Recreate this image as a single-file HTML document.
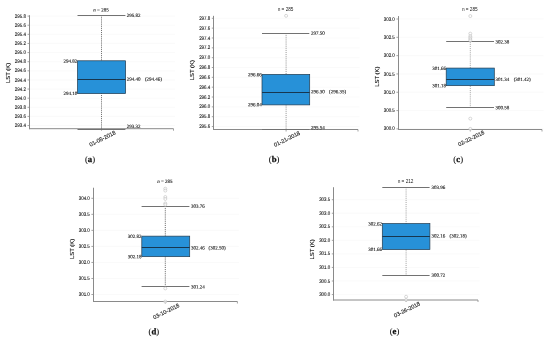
<!DOCTYPE html>
<html><head><meta charset="utf-8"><title>LST boxplots</title>
<style>html,body{margin:0;padding:0;background:#fff;}svg{display:block}</style></head>
<body><svg width="550" height="340" viewBox="0 0 550 340">
<rect width="550" height="340" fill="#fff"/>
<line x1="29.5" y1="125.54" x2="175.0" y2="125.54" stroke="#f7f7f7" stroke-width="0.6"/>
<line x1="27.5" y1="125.54" x2="29.5" y2="125.54" stroke="#666" stroke-width="0.6"/>
<text transform="translate(25.9 127.14) rotate(0.03) scale(0.85 1)" font-family='"Liberation Sans", sans-serif' font-size="5.2" text-anchor="end" fill="#111" stroke="#111" stroke-width="0.1">293.4</text>
<line x1="29.5" y1="116.42" x2="175.0" y2="116.42" stroke="#f7f7f7" stroke-width="0.6"/>
<line x1="27.5" y1="116.42" x2="29.5" y2="116.42" stroke="#666" stroke-width="0.6"/>
<text transform="translate(25.9 118.02) rotate(0.03) scale(0.85 1)" font-family='"Liberation Sans", sans-serif' font-size="5.2" text-anchor="end" fill="#111" stroke="#111" stroke-width="0.1">293.6</text>
<line x1="29.5" y1="107.30" x2="175.0" y2="107.30" stroke="#f7f7f7" stroke-width="0.6"/>
<line x1="27.5" y1="107.30" x2="29.5" y2="107.30" stroke="#666" stroke-width="0.6"/>
<text transform="translate(25.9 108.90) rotate(0.03) scale(0.85 1)" font-family='"Liberation Sans", sans-serif' font-size="5.2" text-anchor="end" fill="#111" stroke="#111" stroke-width="0.1">293.8</text>
<line x1="29.5" y1="98.18" x2="175.0" y2="98.18" stroke="#f7f7f7" stroke-width="0.6"/>
<line x1="27.5" y1="98.18" x2="29.5" y2="98.18" stroke="#666" stroke-width="0.6"/>
<text transform="translate(25.9 99.78) rotate(0.03) scale(0.85 1)" font-family='"Liberation Sans", sans-serif' font-size="5.2" text-anchor="end" fill="#111" stroke="#111" stroke-width="0.1">294.0</text>
<line x1="29.5" y1="89.06" x2="175.0" y2="89.06" stroke="#f7f7f7" stroke-width="0.6"/>
<line x1="27.5" y1="89.06" x2="29.5" y2="89.06" stroke="#666" stroke-width="0.6"/>
<text transform="translate(25.9 90.66) rotate(0.03) scale(0.85 1)" font-family='"Liberation Sans", sans-serif' font-size="5.2" text-anchor="end" fill="#111" stroke="#111" stroke-width="0.1">294.2</text>
<line x1="29.5" y1="79.94" x2="175.0" y2="79.94" stroke="#f7f7f7" stroke-width="0.6"/>
<line x1="27.5" y1="79.94" x2="29.5" y2="79.94" stroke="#666" stroke-width="0.6"/>
<text transform="translate(25.9 81.54) rotate(0.03) scale(0.85 1)" font-family='"Liberation Sans", sans-serif' font-size="5.2" text-anchor="end" fill="#111" stroke="#111" stroke-width="0.1">294.4</text>
<line x1="29.5" y1="70.82" x2="175.0" y2="70.82" stroke="#f7f7f7" stroke-width="0.6"/>
<line x1="27.5" y1="70.82" x2="29.5" y2="70.82" stroke="#666" stroke-width="0.6"/>
<text transform="translate(25.9 72.42) rotate(0.03) scale(0.85 1)" font-family='"Liberation Sans", sans-serif' font-size="5.2" text-anchor="end" fill="#111" stroke="#111" stroke-width="0.1">294.6</text>
<line x1="29.5" y1="61.70" x2="175.0" y2="61.70" stroke="#f7f7f7" stroke-width="0.6"/>
<line x1="27.5" y1="61.70" x2="29.5" y2="61.70" stroke="#666" stroke-width="0.6"/>
<text transform="translate(25.9 63.30) rotate(0.03) scale(0.85 1)" font-family='"Liberation Sans", sans-serif' font-size="5.2" text-anchor="end" fill="#111" stroke="#111" stroke-width="0.1">294.8</text>
<line x1="29.5" y1="52.58" x2="175.0" y2="52.58" stroke="#f7f7f7" stroke-width="0.6"/>
<line x1="27.5" y1="52.58" x2="29.5" y2="52.58" stroke="#666" stroke-width="0.6"/>
<text transform="translate(25.9 54.18) rotate(0.03) scale(0.85 1)" font-family='"Liberation Sans", sans-serif' font-size="5.2" text-anchor="end" fill="#111" stroke="#111" stroke-width="0.1">295.0</text>
<line x1="29.5" y1="43.46" x2="175.0" y2="43.46" stroke="#f7f7f7" stroke-width="0.6"/>
<line x1="27.5" y1="43.46" x2="29.5" y2="43.46" stroke="#666" stroke-width="0.6"/>
<text transform="translate(25.9 45.06) rotate(0.03) scale(0.85 1)" font-family='"Liberation Sans", sans-serif' font-size="5.2" text-anchor="end" fill="#111" stroke="#111" stroke-width="0.1">295.2</text>
<line x1="29.5" y1="34.34" x2="175.0" y2="34.34" stroke="#f7f7f7" stroke-width="0.6"/>
<line x1="27.5" y1="34.34" x2="29.5" y2="34.34" stroke="#666" stroke-width="0.6"/>
<text transform="translate(25.9 35.94) rotate(0.03) scale(0.85 1)" font-family='"Liberation Sans", sans-serif' font-size="5.2" text-anchor="end" fill="#111" stroke="#111" stroke-width="0.1">295.4</text>
<line x1="29.5" y1="25.22" x2="175.0" y2="25.22" stroke="#f7f7f7" stroke-width="0.6"/>
<line x1="27.5" y1="25.22" x2="29.5" y2="25.22" stroke="#666" stroke-width="0.6"/>
<text transform="translate(25.9 26.82) rotate(0.03) scale(0.85 1)" font-family='"Liberation Sans", sans-serif' font-size="5.2" text-anchor="end" fill="#111" stroke="#111" stroke-width="0.1">295.6</text>
<line x1="29.5" y1="16.10" x2="175.0" y2="16.10" stroke="#f7f7f7" stroke-width="0.6"/>
<line x1="27.5" y1="16.10" x2="29.5" y2="16.10" stroke="#666" stroke-width="0.6"/>
<text transform="translate(25.9 17.70) rotate(0.03) scale(0.85 1)" font-family='"Liberation Sans", sans-serif' font-size="5.2" text-anchor="end" fill="#111" stroke="#111" stroke-width="0.1">295.8</text>
<line x1="29.5" y1="15.19" x2="29.5" y2="129.20" stroke="#8a8a8a" stroke-width="1"/>
<line x1="29.0" y1="128.70" x2="173.5" y2="128.70" stroke="#8a8a8a" stroke-width="1"/>
<line x1="101.5" y1="128.70" x2="101.5" y2="130.70" stroke="#8a8a8a" stroke-width="0.8"/>
<line x1="173.5" y1="128.70" x2="173.5" y2="130.70" stroke="#8a8a8a" stroke-width="0.8"/>
<line x1="101.5" y1="15.19" x2="101.5" y2="129.19" stroke="#4c4c4c" stroke-width="0.8" stroke-dasharray="1.1 1"/>
<line x1="77.5" y1="15.50" x2="125.4" y2="15.50" stroke="#727272" stroke-width="1"/>
<line x1="77.5" y1="129.50" x2="125.4" y2="129.50" stroke="#727272" stroke-width="1"/>
<rect x="77.5" y="60.79" width="48.1" height="32.83" fill="#2791d8" stroke="#22394c" stroke-width="0.7"/>
<line x1="77.5" y1="79.50" x2="125.6" y2="79.50" stroke="#17364f" stroke-width="1.0"/>
<text transform="rotate(0.03 126.8 16.89)" x="126.8" y="16.89" font-family='"Liberation Serif", serif' font-size="5.0" text-anchor="start" fill="#111" stroke="#111" stroke-width="0.1">295.82</text>
<text transform="rotate(0.03 126.8 128.09)" x="126.8" y="128.09" font-family='"Liberation Serif", serif' font-size="5.0" text-anchor="start" fill="#111" stroke="#111" stroke-width="0.1">293.32</text>
<text transform="rotate(0.03 126.8 80.74)" x="126.8" y="80.74" font-family='"Liberation Serif", serif' font-size="5.0" text-anchor="start" fill="#111" stroke="#111" stroke-width="0.1">294.40</text>
<text transform="rotate(0.03 144.9 80.74)" x="144.9" y="80.74" font-family='"Liberation Serif", serif' font-size="5.0" text-anchor="start" fill="#111" stroke="#111" stroke-width="0.1">(294.46)</text>
<text transform="rotate(0.03 77.2 62.69)" x="77.2" y="62.69" font-family='"Liberation Serif", serif' font-size="5.0" text-anchor="end" fill="#111" stroke="#111" stroke-width="0.1">294.82</text>
<text transform="rotate(0.03 77.2 95.12)" x="77.2" y="95.12" font-family='"Liberation Serif", serif' font-size="5.0" text-anchor="end" fill="#111" stroke="#111" stroke-width="0.1">294.10</text>
<text transform="rotate(0.03 101.0 11.50)" x="101.0" y="11.50" font-family='"Liberation Serif", serif' font-size="5" text-anchor="middle" fill="#111" stroke="#111" stroke-width="0.1"><tspan font-style="italic">n</tspan> = 285</text>
<text transform="translate(10.0,72.9) rotate(-90)" font-family='"Liberation Sans", sans-serif' font-size="5.9" text-anchor="middle" fill="#111" stroke="#111" stroke-width="0.12">LST (K)</text>
<text transform="translate(102.5,138.8) rotate(-26.5)" font-family='"Liberation Sans", sans-serif' font-size="5.6" text-anchor="middle" fill="#111" stroke="#111" stroke-width="0.1" y="1.7">01-05-2018</text>
<text transform="rotate(0.03 90.0 161.9)" x="90.0" y="161.9" font-family='"Liberation Serif", serif' font-size="8.7" text-anchor="middle" fill="#111" stroke="#111" stroke-width="0.1">(<tspan font-weight="bold" stroke-width="0.3">a</tspan>)</text>
<line x1="213.8" y1="126.54" x2="359.5" y2="126.54" stroke="#f7f7f7" stroke-width="0.6"/>
<line x1="211.8" y1="126.54" x2="213.8" y2="126.54" stroke="#666" stroke-width="0.6"/>
<text transform="translate(210.2 128.14) rotate(0.03) scale(0.85 1)" font-family='"Liberation Sans", sans-serif' font-size="5.2" text-anchor="end" fill="#111" stroke="#111" stroke-width="0.1">295.6</text>
<line x1="213.8" y1="116.70" x2="359.5" y2="116.70" stroke="#f7f7f7" stroke-width="0.6"/>
<line x1="211.8" y1="116.70" x2="213.8" y2="116.70" stroke="#666" stroke-width="0.6"/>
<text transform="translate(210.2 118.30) rotate(0.03) scale(0.85 1)" font-family='"Liberation Sans", sans-serif' font-size="5.2" text-anchor="end" fill="#111" stroke="#111" stroke-width="0.1">295.8</text>
<line x1="213.8" y1="106.86" x2="359.5" y2="106.86" stroke="#f7f7f7" stroke-width="0.6"/>
<line x1="211.8" y1="106.86" x2="213.8" y2="106.86" stroke="#666" stroke-width="0.6"/>
<text transform="translate(210.2 108.46) rotate(0.03) scale(0.85 1)" font-family='"Liberation Sans", sans-serif' font-size="5.2" text-anchor="end" fill="#111" stroke="#111" stroke-width="0.1">296.0</text>
<line x1="213.8" y1="97.02" x2="359.5" y2="97.02" stroke="#f7f7f7" stroke-width="0.6"/>
<line x1="211.8" y1="97.02" x2="213.8" y2="97.02" stroke="#666" stroke-width="0.6"/>
<text transform="translate(210.2 98.62) rotate(0.03) scale(0.85 1)" font-family='"Liberation Sans", sans-serif' font-size="5.2" text-anchor="end" fill="#111" stroke="#111" stroke-width="0.1">296.2</text>
<line x1="213.8" y1="87.18" x2="359.5" y2="87.18" stroke="#f7f7f7" stroke-width="0.6"/>
<line x1="211.8" y1="87.18" x2="213.8" y2="87.18" stroke="#666" stroke-width="0.6"/>
<text transform="translate(210.2 88.78) rotate(0.03) scale(0.85 1)" font-family='"Liberation Sans", sans-serif' font-size="5.2" text-anchor="end" fill="#111" stroke="#111" stroke-width="0.1">296.4</text>
<line x1="213.8" y1="77.34" x2="359.5" y2="77.34" stroke="#f7f7f7" stroke-width="0.6"/>
<line x1="211.8" y1="77.34" x2="213.8" y2="77.34" stroke="#666" stroke-width="0.6"/>
<text transform="translate(210.2 78.94) rotate(0.03) scale(0.85 1)" font-family='"Liberation Sans", sans-serif' font-size="5.2" text-anchor="end" fill="#111" stroke="#111" stroke-width="0.1">296.6</text>
<line x1="213.8" y1="67.50" x2="359.5" y2="67.50" stroke="#f7f7f7" stroke-width="0.6"/>
<line x1="211.8" y1="67.50" x2="213.8" y2="67.50" stroke="#666" stroke-width="0.6"/>
<text transform="translate(210.2 69.10) rotate(0.03) scale(0.85 1)" font-family='"Liberation Sans", sans-serif' font-size="5.2" text-anchor="end" fill="#111" stroke="#111" stroke-width="0.1">296.8</text>
<line x1="213.8" y1="57.66" x2="359.5" y2="57.66" stroke="#f7f7f7" stroke-width="0.6"/>
<line x1="211.8" y1="57.66" x2="213.8" y2="57.66" stroke="#666" stroke-width="0.6"/>
<text transform="translate(210.2 59.26) rotate(0.03) scale(0.85 1)" font-family='"Liberation Sans", sans-serif' font-size="5.2" text-anchor="end" fill="#111" stroke="#111" stroke-width="0.1">297.0</text>
<line x1="213.8" y1="47.82" x2="359.5" y2="47.82" stroke="#f7f7f7" stroke-width="0.6"/>
<line x1="211.8" y1="47.82" x2="213.8" y2="47.82" stroke="#666" stroke-width="0.6"/>
<text transform="translate(210.2 49.42) rotate(0.03) scale(0.85 1)" font-family='"Liberation Sans", sans-serif' font-size="5.2" text-anchor="end" fill="#111" stroke="#111" stroke-width="0.1">297.2</text>
<line x1="213.8" y1="37.98" x2="359.5" y2="37.98" stroke="#f7f7f7" stroke-width="0.6"/>
<line x1="211.8" y1="37.98" x2="213.8" y2="37.98" stroke="#666" stroke-width="0.6"/>
<text transform="translate(210.2 39.58) rotate(0.03) scale(0.85 1)" font-family='"Liberation Sans", sans-serif' font-size="5.2" text-anchor="end" fill="#111" stroke="#111" stroke-width="0.1">297.4</text>
<line x1="213.8" y1="28.14" x2="359.5" y2="28.14" stroke="#f7f7f7" stroke-width="0.6"/>
<line x1="211.8" y1="28.14" x2="213.8" y2="28.14" stroke="#666" stroke-width="0.6"/>
<text transform="translate(210.2 29.74) rotate(0.03) scale(0.85 1)" font-family='"Liberation Sans", sans-serif' font-size="5.2" text-anchor="end" fill="#111" stroke="#111" stroke-width="0.1">297.6</text>
<line x1="213.8" y1="18.30" x2="359.5" y2="18.30" stroke="#f7f7f7" stroke-width="0.6"/>
<line x1="211.8" y1="18.30" x2="213.8" y2="18.30" stroke="#666" stroke-width="0.6"/>
<text transform="translate(210.2 19.90) rotate(0.03) scale(0.85 1)" font-family='"Liberation Sans", sans-serif' font-size="5.2" text-anchor="end" fill="#111" stroke="#111" stroke-width="0.1">297.8</text>
<line x1="213.5" y1="15.84" x2="213.5" y2="130.00" stroke="#8a8a8a" stroke-width="1"/>
<line x1="213.0" y1="129.50" x2="358.0" y2="129.50" stroke="#8a8a8a" stroke-width="1"/>
<line x1="286.1" y1="129.50" x2="286.1" y2="131.50" stroke="#8a8a8a" stroke-width="0.8"/>
<line x1="358.0" y1="129.50" x2="358.0" y2="131.50" stroke="#8a8a8a" stroke-width="0.8"/>
<line x1="286.1" y1="33.06" x2="286.1" y2="129.49" stroke="#808080" stroke-width="0.8" stroke-dasharray="1.1 1"/>
<line x1="262.0" y1="33.50" x2="309.3" y2="33.50" stroke="#727272" stroke-width="1"/>
<line x1="262.0" y1="129.50" x2="309.3" y2="129.50" stroke="#727272" stroke-width="1"/>
<circle cx="286.1" cy="15.84" r="1.5" fill="#fff" fill-opacity="0.6" stroke="#bdbdbd" stroke-width="0.6"/>
<rect x="262.0" y="74.39" width="47.7" height="30.50" fill="#2791d8" stroke="#22394c" stroke-width="0.7"/>
<line x1="262.0" y1="92.50" x2="309.7" y2="92.50" stroke="#17364f" stroke-width="1.0"/>
<text transform="rotate(0.03 310.9 34.76)" x="310.9" y="34.76" font-family='"Liberation Serif", serif' font-size="5.0" text-anchor="start" fill="#111" stroke="#111" stroke-width="0.1">297.50</text>
<text transform="rotate(0.03 310.9 129.29)" x="310.9" y="129.29" font-family='"Liberation Serif", serif' font-size="5.0" text-anchor="start" fill="#111" stroke="#111" stroke-width="0.1">295.54</text>
<text transform="rotate(0.03 310.9 93.20)" x="310.9" y="93.20" font-family='"Liberation Serif", serif' font-size="5.0" text-anchor="start" fill="#111" stroke="#111" stroke-width="0.1">296.30</text>
<text transform="rotate(0.03 329.0 93.20)" x="329.0" y="93.20" font-family='"Liberation Serif", serif' font-size="5.0" text-anchor="start" fill="#111" stroke="#111" stroke-width="0.1">(296.35)</text>
<text transform="rotate(0.03 261.7 76.29)" x="261.7" y="76.29" font-family='"Liberation Serif", serif' font-size="5.0" text-anchor="end" fill="#111" stroke="#111" stroke-width="0.1">296.66</text>
<text transform="rotate(0.03 261.7 106.39)" x="261.7" y="106.39" font-family='"Liberation Serif", serif' font-size="5.0" text-anchor="end" fill="#111" stroke="#111" stroke-width="0.1">296.04</text>
<text x="285.6" y="11" font-family='"Liberation Sans", sans-serif' font-size="4.7" text-anchor="middle" fill="#222">n = 285</text>
<text transform="translate(193.7,70.2) rotate(-90)" font-family='"Liberation Sans", sans-serif' font-size="5.9" text-anchor="middle" fill="#111" stroke="#111" stroke-width="0.12">LST (K)</text>
<text transform="translate(287.1,139.1) rotate(-26.5)" font-family='"Liberation Sans", sans-serif' font-size="5.6" text-anchor="middle" fill="#111" stroke="#111" stroke-width="0.1" y="1.7">01-21-2018</text>
<text transform="rotate(0.03 274.2 161.9)" x="274.2" y="161.9" font-family='"Liberation Serif", serif' font-size="8.7" text-anchor="middle" fill="#111" stroke="#111" stroke-width="0.1">(<tspan font-weight="bold" stroke-width="0.3">b</tspan>)</text>
<line x1="398.4" y1="128.89" x2="543.5" y2="128.89" stroke="#f7f7f7" stroke-width="0.6"/>
<line x1="396.4" y1="128.89" x2="398.4" y2="128.89" stroke="#666" stroke-width="0.6"/>
<text transform="translate(394.8 130.49) rotate(0.03) scale(0.85 1)" font-family='"Liberation Sans", sans-serif' font-size="5.2" text-anchor="end" fill="#111" stroke="#111" stroke-width="0.1">300.0</text>
<line x1="398.4" y1="110.58" x2="543.5" y2="110.58" stroke="#f7f7f7" stroke-width="0.6"/>
<line x1="396.4" y1="110.58" x2="398.4" y2="110.58" stroke="#666" stroke-width="0.6"/>
<text transform="translate(394.8 112.17) rotate(0.03) scale(0.85 1)" font-family='"Liberation Sans", sans-serif' font-size="5.2" text-anchor="end" fill="#111" stroke="#111" stroke-width="0.1">300.5</text>
<line x1="398.4" y1="92.26" x2="543.5" y2="92.26" stroke="#f7f7f7" stroke-width="0.6"/>
<line x1="396.4" y1="92.26" x2="398.4" y2="92.26" stroke="#666" stroke-width="0.6"/>
<text transform="translate(394.8 93.86) rotate(0.03) scale(0.85 1)" font-family='"Liberation Sans", sans-serif' font-size="5.2" text-anchor="end" fill="#111" stroke="#111" stroke-width="0.1">301.0</text>
<line x1="398.4" y1="73.95" x2="543.5" y2="73.95" stroke="#f7f7f7" stroke-width="0.6"/>
<line x1="396.4" y1="73.95" x2="398.4" y2="73.95" stroke="#666" stroke-width="0.6"/>
<text transform="translate(394.8 75.55) rotate(0.03) scale(0.85 1)" font-family='"Liberation Sans", sans-serif' font-size="5.2" text-anchor="end" fill="#111" stroke="#111" stroke-width="0.1">301.5</text>
<line x1="398.4" y1="55.63" x2="543.5" y2="55.63" stroke="#f7f7f7" stroke-width="0.6"/>
<line x1="396.4" y1="55.63" x2="398.4" y2="55.63" stroke="#666" stroke-width="0.6"/>
<text transform="translate(394.8 57.23) rotate(0.03) scale(0.85 1)" font-family='"Liberation Sans", sans-serif' font-size="5.2" text-anchor="end" fill="#111" stroke="#111" stroke-width="0.1">302.0</text>
<line x1="398.4" y1="37.31" x2="543.5" y2="37.31" stroke="#f7f7f7" stroke-width="0.6"/>
<line x1="396.4" y1="37.31" x2="398.4" y2="37.31" stroke="#666" stroke-width="0.6"/>
<text transform="translate(394.8 38.91) rotate(0.03) scale(0.85 1)" font-family='"Liberation Sans", sans-serif' font-size="5.2" text-anchor="end" fill="#111" stroke="#111" stroke-width="0.1">302.5</text>
<line x1="398.4" y1="19.00" x2="543.5" y2="19.00" stroke="#f7f7f7" stroke-width="0.6"/>
<line x1="396.4" y1="19.00" x2="398.4" y2="19.00" stroke="#666" stroke-width="0.6"/>
<text transform="translate(394.8 20.60) rotate(0.03) scale(0.85 1)" font-family='"Liberation Sans", sans-serif' font-size="5.2" text-anchor="end" fill="#111" stroke="#111" stroke-width="0.1">303.0</text>
<line x1="398.5" y1="16.07" x2="398.5" y2="130.00" stroke="#8a8a8a" stroke-width="1"/>
<line x1="398.0" y1="129.50" x2="542.0" y2="129.50" stroke="#8a8a8a" stroke-width="1"/>
<line x1="470.3" y1="129.50" x2="470.3" y2="131.50" stroke="#8a8a8a" stroke-width="0.8"/>
<line x1="542.0" y1="129.50" x2="542.0" y2="131.50" stroke="#8a8a8a" stroke-width="0.8"/>
<line x1="470.3" y1="41.71" x2="470.3" y2="107.64" stroke="#969696" stroke-width="0.8" stroke-dasharray="1.1 1"/>
<line x1="446.2" y1="41.50" x2="494.0" y2="41.50" stroke="#727272" stroke-width="1"/>
<line x1="446.2" y1="107.50" x2="494.0" y2="107.50" stroke="#727272" stroke-width="1"/>
<circle cx="470.3" cy="16.07" r="1.5" fill="#fff" fill-opacity="0.6" stroke="#bdbdbd" stroke-width="0.6"/>
<circle cx="470.3" cy="33.65" r="1.5" fill="#fff" fill-opacity="0.6" stroke="#bdbdbd" stroke-width="0.6"/>
<circle cx="470.3" cy="36.22" r="1.5" fill="#fff" fill-opacity="0.6" stroke="#bdbdbd" stroke-width="0.6"/>
<circle cx="470.3" cy="37.68" r="1.5" fill="#fff" fill-opacity="0.6" stroke="#bdbdbd" stroke-width="0.6"/>
<circle cx="470.3" cy="39.15" r="1.5" fill="#fff" fill-opacity="0.6" stroke="#bdbdbd" stroke-width="0.6"/>
<circle cx="470.3" cy="40.61" r="1.5" fill="#fff" fill-opacity="0.6" stroke="#bdbdbd" stroke-width="0.6"/>
<circle cx="470.3" cy="118.63" r="1.5" fill="#fff" fill-opacity="0.6" stroke="#bdbdbd" stroke-width="0.6"/>
<circle cx="470.3" cy="128.89" r="1.5" fill="#fff" fill-opacity="0.6" stroke="#bdbdbd" stroke-width="0.6"/>
<rect x="446.2" y="68.08" width="48.1" height="17.58" fill="#2791d8" stroke="#22394c" stroke-width="0.7"/>
<line x1="446.2" y1="79.50" x2="494.3" y2="79.50" stroke="#17364f" stroke-width="1.0"/>
<text transform="rotate(0.03 495.5 43.41)" x="495.5" y="43.41" font-family='"Liberation Serif", serif' font-size="5.0" text-anchor="start" fill="#111" stroke="#111" stroke-width="0.1">302.38</text>
<text transform="rotate(0.03 495.5 109.34)" x="495.5" y="109.34" font-family='"Liberation Serif", serif' font-size="5.0" text-anchor="start" fill="#111" stroke="#111" stroke-width="0.1">300.58</text>
<text transform="rotate(0.03 495.5 81.11)" x="495.5" y="81.11" font-family='"Liberation Serif", serif' font-size="5.0" text-anchor="start" fill="#111" stroke="#111" stroke-width="0.1">301.34</text>
<text transform="rotate(0.03 513.7 81.11)" x="513.7" y="81.11" font-family='"Liberation Serif", serif' font-size="5.0" text-anchor="start" fill="#111" stroke="#111" stroke-width="0.1">(301.42)</text>
<text transform="rotate(0.03 445.9 69.98)" x="445.9" y="69.98" font-family='"Liberation Serif", serif' font-size="5.0" text-anchor="end" fill="#111" stroke="#111" stroke-width="0.1">301.66</text>
<text transform="rotate(0.03 445.9 87.17)" x="445.9" y="87.17" font-family='"Liberation Serif", serif' font-size="5.0" text-anchor="end" fill="#111" stroke="#111" stroke-width="0.1">301.18</text>
<text x="469.8" y="11" font-family='"Liberation Sans", sans-serif' font-size="4.7" text-anchor="middle" fill="#222">n = 285</text>
<text transform="translate(378.6,76.7) rotate(-90)" font-family='"Liberation Sans", sans-serif' font-size="5.9" text-anchor="middle" fill="#111" stroke="#111" stroke-width="0.12">LST (K)</text>
<text transform="translate(471.3,138.5) rotate(-26.5)" font-family='"Liberation Sans", sans-serif' font-size="5.6" text-anchor="middle" fill="#111" stroke="#111" stroke-width="0.1" y="1.7">02-22-2018</text>
<text transform="rotate(0.03 458.2 161.9)" x="458.2" y="161.9" font-family='"Liberation Serif", serif' font-size="8.7" text-anchor="middle" fill="#111" stroke="#111" stroke-width="0.1">(<tspan font-weight="bold" stroke-width="0.3">c</tspan>)</text>
<line x1="93.4" y1="294.51" x2="238.9" y2="294.51" stroke="#f7f7f7" stroke-width="0.6"/>
<line x1="91.4" y1="294.51" x2="93.4" y2="294.51" stroke="#666" stroke-width="0.6"/>
<text transform="translate(89.8 296.11) rotate(0.03) scale(0.85 1)" font-family='"Liberation Sans", sans-serif' font-size="5.2" text-anchor="end" fill="#111" stroke="#111" stroke-width="0.1">301.0</text>
<line x1="93.4" y1="278.48" x2="238.9" y2="278.48" stroke="#f7f7f7" stroke-width="0.6"/>
<line x1="91.4" y1="278.48" x2="93.4" y2="278.48" stroke="#666" stroke-width="0.6"/>
<text transform="translate(89.8 280.08) rotate(0.03) scale(0.85 1)" font-family='"Liberation Sans", sans-serif' font-size="5.2" text-anchor="end" fill="#111" stroke="#111" stroke-width="0.1">301.5</text>
<line x1="93.4" y1="262.44" x2="238.9" y2="262.44" stroke="#f7f7f7" stroke-width="0.6"/>
<line x1="91.4" y1="262.44" x2="93.4" y2="262.44" stroke="#666" stroke-width="0.6"/>
<text transform="translate(89.8 264.04) rotate(0.03) scale(0.85 1)" font-family='"Liberation Sans", sans-serif' font-size="5.2" text-anchor="end" fill="#111" stroke="#111" stroke-width="0.1">302.0</text>
<line x1="93.4" y1="246.41" x2="238.9" y2="246.41" stroke="#f7f7f7" stroke-width="0.6"/>
<line x1="91.4" y1="246.41" x2="93.4" y2="246.41" stroke="#666" stroke-width="0.6"/>
<text transform="translate(89.8 248.01) rotate(0.03) scale(0.85 1)" font-family='"Liberation Sans", sans-serif' font-size="5.2" text-anchor="end" fill="#111" stroke="#111" stroke-width="0.1">302.5</text>
<line x1="93.4" y1="230.37" x2="238.9" y2="230.37" stroke="#f7f7f7" stroke-width="0.6"/>
<line x1="91.4" y1="230.37" x2="93.4" y2="230.37" stroke="#666" stroke-width="0.6"/>
<text transform="translate(89.8 231.97) rotate(0.03) scale(0.85 1)" font-family='"Liberation Sans", sans-serif' font-size="5.2" text-anchor="end" fill="#111" stroke="#111" stroke-width="0.1">303.0</text>
<line x1="93.4" y1="214.34" x2="238.9" y2="214.34" stroke="#f7f7f7" stroke-width="0.6"/>
<line x1="91.4" y1="214.34" x2="93.4" y2="214.34" stroke="#666" stroke-width="0.6"/>
<text transform="translate(89.8 215.94) rotate(0.03) scale(0.85 1)" font-family='"Liberation Sans", sans-serif' font-size="5.2" text-anchor="end" fill="#111" stroke="#111" stroke-width="0.1">303.5</text>
<line x1="93.4" y1="198.30" x2="238.9" y2="198.30" stroke="#f7f7f7" stroke-width="0.6"/>
<line x1="91.4" y1="198.30" x2="93.4" y2="198.30" stroke="#666" stroke-width="0.6"/>
<text transform="translate(89.8 199.90) rotate(0.03) scale(0.85 1)" font-family='"Liberation Sans", sans-serif' font-size="5.2" text-anchor="end" fill="#111" stroke="#111" stroke-width="0.1">304.0</text>
<line x1="93.5" y1="187.72" x2="93.5" y2="302.00" stroke="#8a8a8a" stroke-width="1"/>
<line x1="93.0" y1="301.50" x2="237.4" y2="301.50" stroke="#8a8a8a" stroke-width="1"/>
<line x1="165.3" y1="301.50" x2="165.3" y2="303.50" stroke="#8a8a8a" stroke-width="0.8"/>
<line x1="237.4" y1="301.50" x2="237.4" y2="303.50" stroke="#8a8a8a" stroke-width="0.8"/>
<line x1="165.3" y1="206.00" x2="165.3" y2="286.81" stroke="#484848" stroke-width="0.8" stroke-dasharray="1.1 1"/>
<line x1="141.6" y1="206.50" x2="189.4" y2="206.50" stroke="#727272" stroke-width="1"/>
<line x1="141.6" y1="286.50" x2="189.4" y2="286.50" stroke="#727272" stroke-width="1"/>
<circle cx="165.3" cy="188.68" r="1.5" fill="#fff" fill-opacity="0.6" stroke="#bdbdbd" stroke-width="0.6"/>
<circle cx="165.3" cy="190.60" r="1.5" fill="#fff" fill-opacity="0.6" stroke="#bdbdbd" stroke-width="0.6"/>
<circle cx="165.3" cy="197.02" r="1.5" fill="#fff" fill-opacity="0.6" stroke="#bdbdbd" stroke-width="0.6"/>
<circle cx="165.3" cy="198.94" r="1.5" fill="#fff" fill-opacity="0.6" stroke="#bdbdbd" stroke-width="0.6"/>
<circle cx="165.3" cy="203.43" r="1.5" fill="#fff" fill-opacity="0.6" stroke="#bdbdbd" stroke-width="0.6"/>
<circle cx="165.3" cy="204.71" r="1.5" fill="#fff" fill-opacity="0.6" stroke="#bdbdbd" stroke-width="0.6"/>
<circle cx="165.3" cy="288.42" r="1.5" fill="#fff" fill-opacity="0.6" stroke="#bdbdbd" stroke-width="0.6"/>
<circle cx="165.3" cy="301.57" r="1.5" fill="#fff" fill-opacity="0.6" stroke="#bdbdbd" stroke-width="0.6"/>
<rect x="141.8" y="236.14" width="47.9" height="20.52" fill="#2791d8" stroke="#22394c" stroke-width="0.7"/>
<line x1="141.8" y1="247.50" x2="189.7" y2="247.50" stroke="#17364f" stroke-width="1.0"/>
<text transform="rotate(0.03 190.9 207.70)" x="190.9" y="207.70" font-family='"Liberation Serif", serif' font-size="5.0" text-anchor="start" fill="#111" stroke="#111" stroke-width="0.1">303.76</text>
<text transform="rotate(0.03 190.9 288.51)" x="190.9" y="288.51" font-family='"Liberation Serif", serif' font-size="5.0" text-anchor="start" fill="#111" stroke="#111" stroke-width="0.1">301.24</text>
<text transform="rotate(0.03 190.9 249.49)" x="190.9" y="249.49" font-family='"Liberation Serif", serif' font-size="5.0" text-anchor="start" fill="#111" stroke="#111" stroke-width="0.1">302.46</text>
<text transform="rotate(0.03 208.6 249.49)" x="208.6" y="249.49" font-family='"Liberation Serif", serif' font-size="5.0" text-anchor="start" fill="#111" stroke="#111" stroke-width="0.1">(302.50)</text>
<text transform="rotate(0.03 141.5 238.04)" x="141.5" y="238.04" font-family='"Liberation Serif", serif' font-size="5.0" text-anchor="end" fill="#111" stroke="#111" stroke-width="0.1">302.82</text>
<text transform="rotate(0.03 141.5 258.17)" x="141.5" y="258.17" font-family='"Liberation Serif", serif' font-size="5.0" text-anchor="end" fill="#111" stroke="#111" stroke-width="0.1">302.18</text>
<text transform="rotate(0.03 164.8 183.10)" x="164.8" y="183.10" font-family='"Liberation Serif", serif' font-size="5" text-anchor="middle" fill="#111" stroke="#111" stroke-width="0.1"><tspan font-style="italic">n</tspan> = 285</text>
<text transform="translate(74.0,248.9) rotate(-90)" font-family='"Liberation Sans", sans-serif' font-size="5.9" text-anchor="middle" fill="#111" stroke="#111" stroke-width="0.12">LST (K)</text>
<text transform="translate(166.3,311.5) rotate(-26.5)" font-family='"Liberation Sans", sans-serif' font-size="5.6" text-anchor="middle" fill="#111" stroke="#111" stroke-width="0.1" y="1.7">03-10-2018</text>
<text transform="rotate(0.03 153.9 334.2)" x="153.9" y="334.2" font-family='"Liberation Serif", serif' font-size="8.7" text-anchor="middle" fill="#111" stroke="#111" stroke-width="0.1">(<tspan font-weight="bold" stroke-width="0.3">d</tspan>)</text>
<line x1="333.8" y1="294.55" x2="479.5" y2="294.55" stroke="#f7f7f7" stroke-width="0.6"/>
<line x1="331.8" y1="294.55" x2="333.8" y2="294.55" stroke="#666" stroke-width="0.6"/>
<text transform="translate(330.2 296.15) rotate(0.03) scale(0.85 1)" font-family='"Liberation Sans", sans-serif' font-size="5.2" text-anchor="end" fill="#111" stroke="#111" stroke-width="0.1">300.0</text>
<line x1="333.8" y1="281.00" x2="479.5" y2="281.00" stroke="#f7f7f7" stroke-width="0.6"/>
<line x1="331.8" y1="281.00" x2="333.8" y2="281.00" stroke="#666" stroke-width="0.6"/>
<text transform="translate(330.2 282.60) rotate(0.03) scale(0.85 1)" font-family='"Liberation Sans", sans-serif' font-size="5.2" text-anchor="end" fill="#111" stroke="#111" stroke-width="0.1">300.5</text>
<line x1="333.8" y1="267.45" x2="479.5" y2="267.45" stroke="#f7f7f7" stroke-width="0.6"/>
<line x1="331.8" y1="267.45" x2="333.8" y2="267.45" stroke="#666" stroke-width="0.6"/>
<text transform="translate(330.2 269.05) rotate(0.03) scale(0.85 1)" font-family='"Liberation Sans", sans-serif' font-size="5.2" text-anchor="end" fill="#111" stroke="#111" stroke-width="0.1">301.0</text>
<line x1="333.8" y1="253.90" x2="479.5" y2="253.90" stroke="#f7f7f7" stroke-width="0.6"/>
<line x1="331.8" y1="253.90" x2="333.8" y2="253.90" stroke="#666" stroke-width="0.6"/>
<text transform="translate(330.2 255.50) rotate(0.03) scale(0.85 1)" font-family='"Liberation Sans", sans-serif' font-size="5.2" text-anchor="end" fill="#111" stroke="#111" stroke-width="0.1">301.5</text>
<line x1="333.8" y1="240.35" x2="479.5" y2="240.35" stroke="#f7f7f7" stroke-width="0.6"/>
<line x1="331.8" y1="240.35" x2="333.8" y2="240.35" stroke="#666" stroke-width="0.6"/>
<text transform="translate(330.2 241.95) rotate(0.03) scale(0.85 1)" font-family='"Liberation Sans", sans-serif' font-size="5.2" text-anchor="end" fill="#111" stroke="#111" stroke-width="0.1">302.0</text>
<line x1="333.8" y1="226.80" x2="479.5" y2="226.80" stroke="#f7f7f7" stroke-width="0.6"/>
<line x1="331.8" y1="226.80" x2="333.8" y2="226.80" stroke="#666" stroke-width="0.6"/>
<text transform="translate(330.2 228.40) rotate(0.03) scale(0.85 1)" font-family='"Liberation Sans", sans-serif' font-size="5.2" text-anchor="end" fill="#111" stroke="#111" stroke-width="0.1">302.5</text>
<line x1="333.8" y1="213.25" x2="479.5" y2="213.25" stroke="#f7f7f7" stroke-width="0.6"/>
<line x1="331.8" y1="213.25" x2="333.8" y2="213.25" stroke="#666" stroke-width="0.6"/>
<text transform="translate(330.2 214.85) rotate(0.03) scale(0.85 1)" font-family='"Liberation Sans", sans-serif' font-size="5.2" text-anchor="end" fill="#111" stroke="#111" stroke-width="0.1">303.0</text>
<line x1="333.8" y1="199.70" x2="479.5" y2="199.70" stroke="#f7f7f7" stroke-width="0.6"/>
<line x1="331.8" y1="199.70" x2="333.8" y2="199.70" stroke="#666" stroke-width="0.6"/>
<text transform="translate(330.2 201.30) rotate(0.03) scale(0.85 1)" font-family='"Liberation Sans", sans-serif' font-size="5.2" text-anchor="end" fill="#111" stroke="#111" stroke-width="0.1">303.5</text>
<line x1="333.5" y1="187.23" x2="333.5" y2="300.50" stroke="#8a8a8a" stroke-width="1"/>
<line x1="333.0" y1="300.00" x2="478.0" y2="300.00" stroke="#8a8a8a" stroke-width="1"/>
<line x1="406.1" y1="300.00" x2="406.1" y2="302.00" stroke="#8a8a8a" stroke-width="0.8"/>
<line x1="478.0" y1="300.00" x2="478.0" y2="302.00" stroke="#8a8a8a" stroke-width="0.8"/>
<line x1="406.1" y1="187.23" x2="406.1" y2="275.04" stroke="#909090" stroke-width="0.8" stroke-dasharray="1.1 1"/>
<line x1="382.3" y1="187.50" x2="429.6" y2="187.50" stroke="#727272" stroke-width="1"/>
<line x1="382.3" y1="275.50" x2="429.6" y2="275.50" stroke="#727272" stroke-width="1"/>
<circle cx="406.1" cy="296.72" r="1.5" fill="#fff" fill-opacity="0.6" stroke="#bdbdbd" stroke-width="0.6"/>
<circle cx="406.1" cy="299.97" r="1.5" fill="#fff" fill-opacity="0.6" stroke="#bdbdbd" stroke-width="0.6"/>
<rect x="382.3" y="223.55" width="47.6" height="26.02" fill="#2791d8" stroke="#22394c" stroke-width="0.7"/>
<line x1="382.3" y1="236.50" x2="429.9" y2="236.50" stroke="#17364f" stroke-width="1.0"/>
<text transform="rotate(0.03 431.6 188.93)" x="431.6" y="188.93" font-family='"Liberation Serif", serif' font-size="5.0" text-anchor="start" fill="#111" stroke="#111" stroke-width="0.1">303.96</text>
<text transform="rotate(0.03 431.6 276.74)" x="431.6" y="276.74" font-family='"Liberation Serif", serif' font-size="5.0" text-anchor="start" fill="#111" stroke="#111" stroke-width="0.1">300.72</text>
<text transform="rotate(0.03 431.6 237.41)" x="431.6" y="237.41" font-family='"Liberation Serif", serif' font-size="5.0" text-anchor="start" fill="#111" stroke="#111" stroke-width="0.1">302.16</text>
<text transform="rotate(0.03 449.6 237.41)" x="449.6" y="237.41" font-family='"Liberation Serif", serif' font-size="5.0" text-anchor="start" fill="#111" stroke="#111" stroke-width="0.1">(302.18)</text>
<text transform="rotate(0.03 382.0 225.45)" x="382.0" y="225.45" font-family='"Liberation Serif", serif' font-size="5.0" text-anchor="end" fill="#111" stroke="#111" stroke-width="0.1">302.62</text>
<text transform="rotate(0.03 382.0 251.06)" x="382.0" y="251.06" font-family='"Liberation Serif", serif' font-size="5.0" text-anchor="end" fill="#111" stroke="#111" stroke-width="0.1">301.66</text>
<text x="405.6" y="183" font-family='"Liberation Sans", sans-serif' font-size="4.7" text-anchor="middle" fill="#222">n = 212</text>
<text transform="translate(314.1,249.4) rotate(-90)" font-family='"Liberation Sans", sans-serif' font-size="5.9" text-anchor="middle" fill="#111" stroke="#111" stroke-width="0.12">LST (K)</text>
<text transform="translate(407.1,309.8) rotate(-26.5)" font-family='"Liberation Sans", sans-serif' font-size="5.6" text-anchor="middle" fill="#111" stroke="#111" stroke-width="0.1" y="1.7">03-26-2018</text>
<text transform="rotate(0.03 394.5 334.0)" x="394.5" y="334.0" font-family='"Liberation Serif", serif' font-size="8.7" text-anchor="middle" fill="#111" stroke="#111" stroke-width="0.1">(<tspan font-weight="bold" stroke-width="0.3">e</tspan>)</text>
</svg></body></html>
